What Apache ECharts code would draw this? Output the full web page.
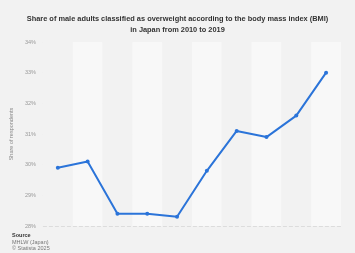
<!DOCTYPE html>
<html>
<head>
<meta charset="utf-8">
<script src="https://cdn.jsdelivr.net/npm/echarts@6/dist/echarts.min.js"></script>
<style>
html,body{margin:0;padding:0;background:#f2f2f2;}
#c{width:355px;height:253px;}
</style>
</head>
<body>
<div id="c"></div>
<script>
var years = ['2010','2011','2012','2013','2014','2015','2016','2017','2018','2019'];
var shares = [29.9, 30.1, 28.4, 28.4, 28.3, 29.8, 31.1, 30.9, 31.6, 33.0];
var yMin = 28, yMax = 34, yStep = 1;
var titleText = 'Share of male adults classified as overweight according to the body mass index (BMI)\nin Japan from 2010 to 2019';
var yAxisTitle = 'Share of respondents';

var chart = echarts.init(document.getElementById('c'), null, {renderer:'canvas'});
chart.setOption({
  backgroundColor: '#f2f2f2',
  animation: false,
  title: {
    text: titleText,
    left: 'center',
    top: 8,
    textStyle: {fontFamily: 'Liberation Sans, Arial, sans-serif', fontSize: 7.4, fontWeight: 'bold', color: '#333', lineHeight: 11}
  },
  graphic: [
    {type: 'text', left: 12, top: 232, style: {text: 'Source', font: 'bold 5.5px Liberation Sans, Arial, sans-serif', fill: '#333'}},
    {type: 'text', left: 12, top: 239, style: {text: 'MHLW (Japan)\n© Statista 2025', font: '5.5px Liberation Sans, Arial, sans-serif', fill: '#777', lineHeight: 6.5}}
  ],
  grid: {left: 41, right: 14, top: 42, bottom: 27, containLabel: false},
  xAxis: {
    type: 'category',
    data: years,
    boundaryGap: true,
    axisLine: {show: false},
    axisTick: {show: false, interval: 0},
    axisLabel: {show: false, interval: 0},
    splitLine: {show: false},
    splitArea: {show: true, interval: 0, areaStyle: {color: ['#f2f2f2', '#f8f8f8']}}
  },
  yAxis: {
    type: 'value',
    min: yMin, max: yMax, interval: yStep,
    name: yAxisTitle,
    nameLocation: 'middle',
    nameGap: 21,
    nameTextStyle: {fontFamily: 'Liberation Sans, Arial, sans-serif', fontSize: 5.5, color: '#888'},
    axisLine: {show: false},
    axisTick: {show: false},
    axisLabel: {formatter: '{value}%', fontFamily: 'Liberation Sans, Arial, sans-serif', fontSize: 5.5, color: '#999', margin: 7},
    splitLine: {show: true, lineStyle: {color: '#dcdcdc', type: [4, 2], width: 1}}
  },
  series: [{
    type: 'line',
    data: shares,
    symbol: 'circle',
    symbolSize: 4,
    lineStyle: {color: '#2b74d9', width: 2},
    itemStyle: {color: '#2b74d9'}
  }]
});
</script>
</body>
</html>
